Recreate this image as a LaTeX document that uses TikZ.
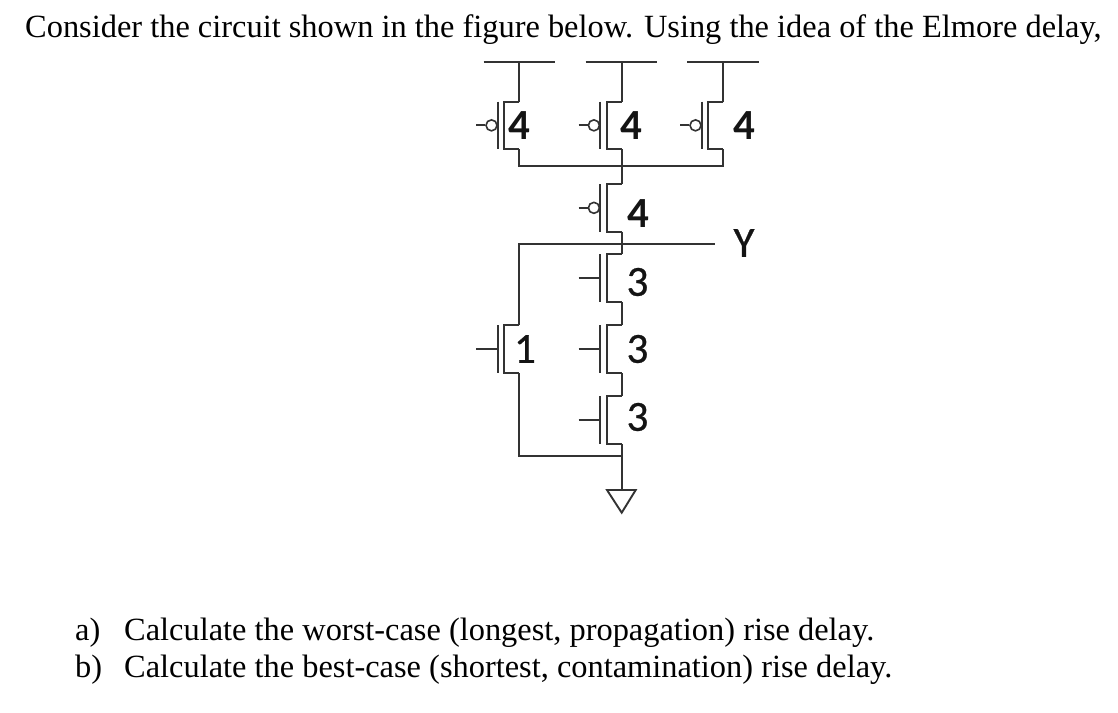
\documentclass[tikz,border=0pt]{standalone}
\usepackage{fontspec}
\setmainfont{Liberation Serif}
\newfontfamily\lab[FakeBold=0.6]{Carlito}
\newfontfamily\labb{Carlito Bold}
\newcommand{\mosbody}[4]{% name, drain x, top y, bottom y
  \coordinate (#1top) at (#2,#3);
  \coordinate (#1bot) at (#2,#4);
  \coordinate (#1ct) at (#2-15,#3);
  \coordinate (#1cb) at (#2-15,#4);
  \coordinate (#1gt) at (#2-21.5,#3);
  \coordinate (#1gb) at (#2-21.5,#4);
  \coordinate (#1gm) at (#2-21.5,{(#3+#4)/2});
  \coordinate (#1in) at (#2-43,{(#3+#4)/2});
  \draw[wire] (#1top) -- (#1ct) -- (#1cb) -- (#1bot);
  \draw[gatebar] (#1gt) -- (#1gb);
}
\newcommand{\pmosT}[4]{\mosbody{#1}{#2}{#3}{#4}
  \node[bubble,anchor=east] (#1b) at (#1gm) {};
  \draw[wire] (#1in) -- (#1b.west);}
\newcommand{\nmosT}[4]{\mosbody{#1}{#2}{#3}{#4}
  \draw[wire] (#1in) -- (#1gm);}
\tikzset{
  wire/.style={draw=black!80,line width=1.9pt},
  gatebar/.style={draw=black!80,line width=2.1pt},
  bubble/.style={circle,draw=black!80,line width=1.6pt,fill=white,minimum size=11pt,inner sep=0pt},
  val/.style={font=\lab\fontsize{43}{43}\selectfont,inner sep=0pt,text=black!92},
  valb/.style={font=\labb\fontsize{43}{43}\selectfont,inner sep=0pt,text=black!92},
  txt/.style={font=\fontsize{32.4}{36}\selectfont,inner sep=0pt,anchor=base west,text=black}
}
\begin{document}
\begin{tikzpicture}[x=1pt,y=-1pt]
\useasboundingbox[fill=white] (0,0) rectangle (1118,712);
\node[txt] (t1) at (25,37) {Consider the circuit shown in the figure below. Using the idea of the Elmore delay,};
\node[txt] (t2a) at (75,640) {a)};
\node[txt] (t2) at (124,640) {Calculate the worst-case (longest, propagation) rise delay.};
\node[txt] (t3a) at (75,677) {b)};
\node[txt] (t3) at (124,677) {Calculate the best-case (shortest, contamination) rise delay.};
% supply rails
\coordinate (v1l) at (483.5,62.3); \coordinate (v1r) at (555,62.3); \coordinate (v1) at (519.3,62.3);
\coordinate (v2l) at (585.7,62.3); \coordinate (v2r) at (657,62.3); \coordinate (v2) at (621.7,62.3);
\coordinate (v3l) at (687.3,62.3); \coordinate (v3r) at (759.3,62.3); \coordinate (v3) at (723.3,62.3);
\draw[wire] (v1l) -- (v1r); \draw[wire] (v2l) -- (v2r); \draw[wire] (v3l) -- (v3r);
% transistors
\pmosT{pa}{519.3}{101.7}{149}
\pmosT{pb}{621.7}{101.7}{149}
\pmosT{pc}{723.3}{101.7}{149}
\pmosT{pd}{621.7}{184}{231.7}
\nmosT{na}{621.7}{254.3}{302}
\nmosT{nb}{621.7}{325.3}{373.3}
\nmosT{nc}{621.7}{396.3}{444}
\nmosT{nl}{519.3}{325.3}{373.3}
% wiring
\draw[wire] (v1) -- (patop); \draw[wire] (v2) -- (pbtop); \draw[wire] (v3) -- (pctop);
\coordinate (cm) at (621.7,165.7);
\draw[wire] (pabot) |- (cm) -| (pcbot);
\draw[wire] (pbbot) -- (pdtop);
\draw[wire] (pdbot) -- (natop);
\coordinate (yend) at (715,243.9);
\draw[wire] (nltop) |- (yend);
\draw[wire] (nabot) -- (nbtop);
\draw[wire] (nbbot) -- (nctop);
\coordinate (gn) at (621.7,456);
\coordinate (gs) at (621.7,490);
\draw[wire] (nlbot) |- (gn);
\draw[wire] (ncbot) -- (gs);
\coordinate (gl) at (607,490); \coordinate (gr) at (635.7,490); \coordinate (ga) at (621.7,512.7);
\draw[wire,line join=miter] (gl) -- (gr) -- (ga) -- cycle;
% labels
\node[valb] (l1) at (519.5,126) {4};
\node[valb] (l2) at (631,126) {4};
\node[valb] (l3) at (744,126) {4};
\node[valb] (l4) at (638,214) {4};
\node[val] (ly) at (744,243) {Y};
\node[val] (l5) at (637.5,282) {3};
\node[val] (l6) at (637.5,349) {3};
\node[val] (l7) at (637.5,417) {3};
\node[val] (l8) at (525,349) {1};
\end{tikzpicture}
\end{document}
